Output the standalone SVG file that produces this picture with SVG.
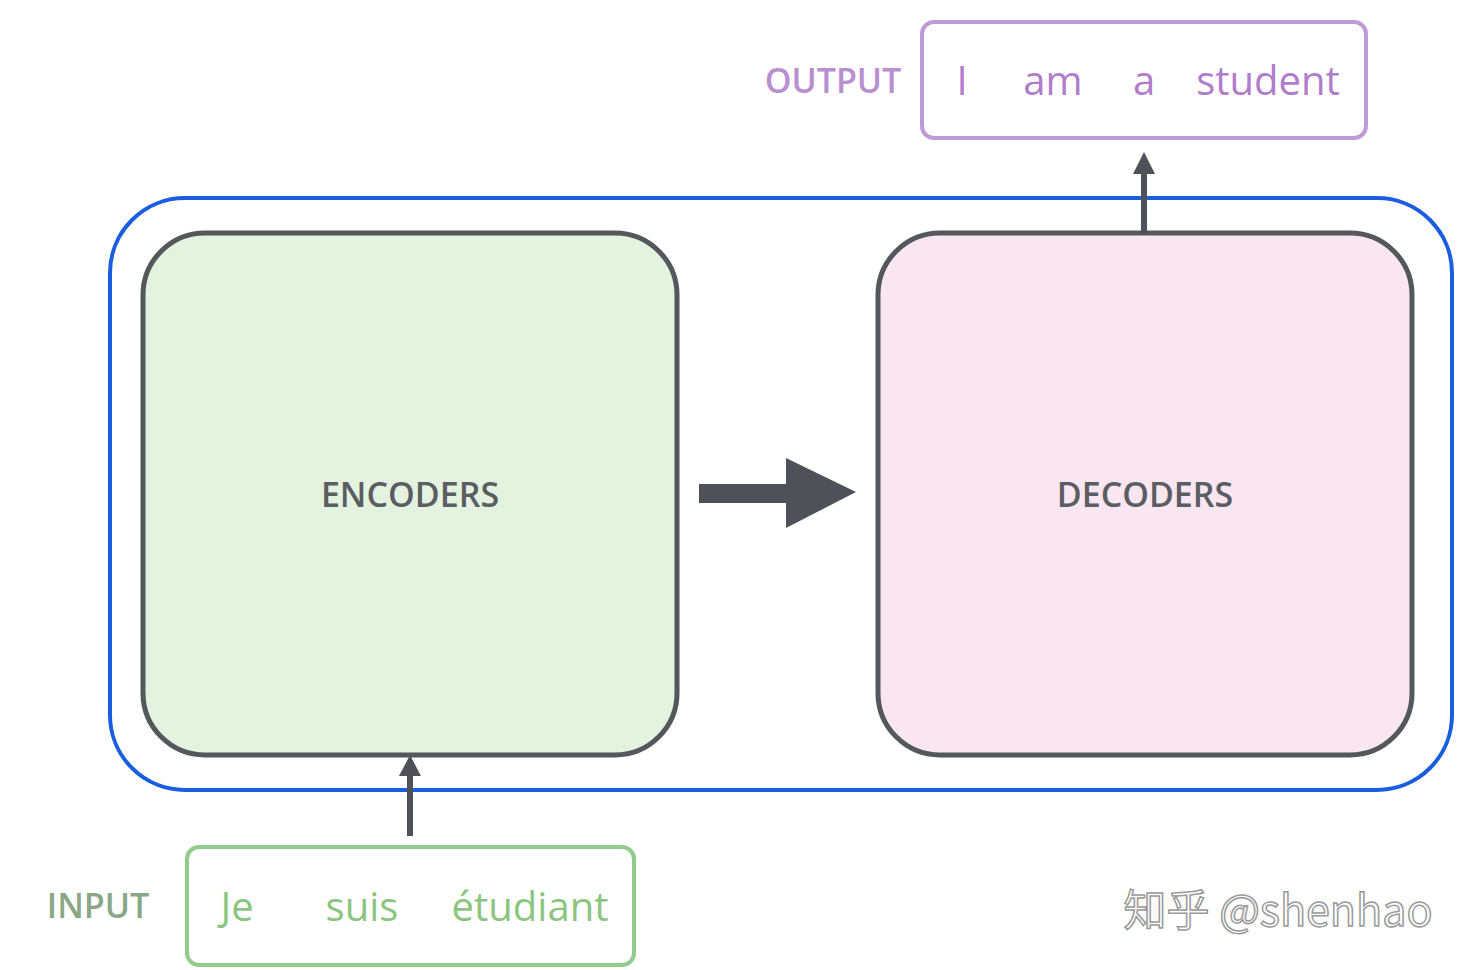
<svg xmlns="http://www.w3.org/2000/svg" width="1476" height="970" viewBox="0 0 1476 970">
<style>
.blk{stroke:#54575c;stroke-width:5}
.lbl{font-family:"Open Sans",sans-serif;font-weight:600;font-size:34px;fill:#5a5d62;text-anchor:middle}
.in{font-family:"Open Sans",sans-serif;font-size:40px;fill:#8cc57f;text-anchor:middle}
.out{font-family:"Open Sans",sans-serif;font-size:40px;fill:#b07ccc;text-anchor:middle}
</style>
<rect width="1476" height="970" fill="#fff"/>
<g id="outer"><rect x="110" y="198" width="1342" height="592" rx="75" fill="none" stroke="#1a5ee0" stroke-width="4"/></g>
<g id="encoders"><rect class="blk" x="143" y="233" width="534" height="522" rx="62" fill="#e4f3e0"/><text class="lbl" x="410" y="507">ENCODERS</text></g>
<g id="decoders"><rect class="blk" x="878" y="233" width="534" height="522" rx="62" fill="#fae6f1"/><text class="lbl" x="1145" y="507">DECODERS</text></g>
<g id="input"><rect x="187" y="847" width="447" height="118" rx="12" fill="#fff" stroke="#92cc8c" stroke-width="4"/>
<text class="in" x="237" y="921">Je</text><text class="in" x="362" y="921">suis</text><text class="in" x="530" y="921">étudiant</text>
<text x="98" y="918" font-family="Open Sans,sans-serif" font-weight="600" font-size="34" fill="#8aa886" text-anchor="middle">INPUT</text></g>
<g id="output"><rect x="922" y="22" width="444" height="116" rx="12" fill="#fff" stroke="#c09ad8" stroke-width="4"/>
<text class="out" x="962" y="95">I</text><text class="out" x="1053" y="95">am</text><text class="out" x="1144" y="95">a</text><text class="out" x="1268" y="95">student</text>
<text x="833" y="93" font-family="Open Sans,sans-serif" font-weight="600" font-size="34" fill="#b98fd0" text-anchor="middle">OUTPUT</text></g>
<g id="connectors" fill="#4e5157" stroke="none">
<rect x="699" y="484" width="92" height="19"/><polygon points="786,458 856,492 786,528"/>
<rect x="407" y="772" width="6" height="64"/><polygon points="399,776 410,755 421,776"/>
<rect x="1141" y="170" width="6" height="63"/><polygon points="1133,174 1144,152 1155,174"/>
</g>
<text x="1278" y="926" font-family="Noto Sans CJK SC,sans-serif" font-size="43" fill="#fff" stroke="#9a9a9a" stroke-width="1.5" text-anchor="middle">知乎 @shenhao</text>
</svg>
